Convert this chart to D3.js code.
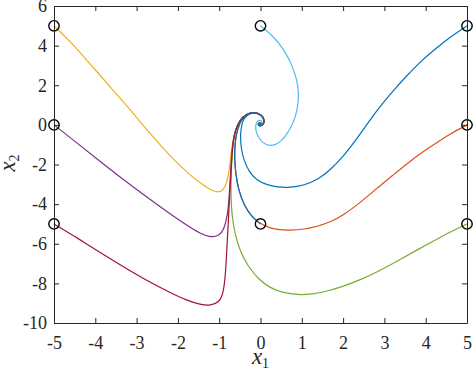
<!DOCTYPE html>
<html>
<head>
<meta charset="utf-8">
<script src="https://cdn.jsdelivr.net/npm/d3@7"></script>
<style>
  body { margin: 0; background: #fff; }
</style>
</head>
<body>
<svg id="chart" width="474" height="373"></svg>
<script>
// trajectories, [x1, x2]
const traj1 = [[5,5],[4.6,4.45],[4.27,3.9],[3.9,3.25],[3.55,2.5],[3.2,1.7],[2.9,0.95],[2.6,0.1],[2.3,-0.8],[2,-1.6],[1.7,-2.25],[1.4,-2.75],[1.05,-3.05],[0.72,-3.17],[0.4,-3.15],[0.15,-3.02],[-0.1,-2.8],[-0.28,-2.35],[-0.4,-1.8],[-0.47,-1.2],[-0.49,-0.55],[-0.46,0],[-0.4,0.35],[-0.28,0.56],[-0.12,0.62],[0.02,0.52],[0.09,0.28],[0.08,0.05],[0,-0.06],[-0.06,0.02],[-0.03,0.1],[0.02,0.06],[0,0]]
const traj2 = [[5,0],[4.6,-0.45],[4.27,-0.9],[3.9,-1.4],[3.55,-1.95],[3.2,-2.55],[2.82,-3.2],[2.4,-3.95],[2.01,-4.55],[1.7,-4.9],[1.37,-5.13],[1.05,-5.27],[0.72,-5.32],[0.45,-5.3],[0.22,-5.2],[0,-5],[-0.22,-4.62],[-0.4,-4.05],[-0.53,-3.3],[-0.6,-2.5],[-0.63,-1.7],[-0.62,-0.9],[-0.56,-0.2],[-0.46,0.28],[-0.32,0.56],[-0.14,0.64],[0.02,0.5],[0.09,0.26],[0.07,0.02],[-0.01,-0.07],[-0.06,0.02],[-0.03,0.1],[0.02,0.06],[0,0]]
const traj3 = [[-5,5],[-4.6,4.2],[-4.2,3.25],[-3.88,2.5],[-3.55,1.7],[-3.23,0.95],[-2.95,0.25],[-2.67,-0.45],[-2.35,-1.2],[-2.05,-1.85],[-1.75,-2.45],[-1.45,-2.95],[-1.2,-3.3],[-1.02,-3.42],[-0.9,-3.3],[-0.81,-2.9],[-0.76,-2.3],[-0.72,-1.6],[-0.68,-0.9],[-0.61,-0.25],[-0.5,0.25],[-0.34,0.56],[-0.15,0.65],[0.02,0.52],[0.1,0.27],[0.08,0.02],[-0.01,-0.08],[-0.07,0.02],[-0.03,0.11],[0.02,0.06],[0,0]]
const traj4 = [[-5,0],[-4.45,-0.9],[-3.88,-1.85],[-3.31,-2.78],[-2.75,-3.65],[-2.25,-4.4],[-1.8,-5.05],[-1.45,-5.5],[-1.2,-5.68],[-1.0,-5.6],[-0.88,-5.25],[-0.8,-4.6],[-0.76,-3.7],[-0.73,-2.6],[-0.7,-1.6],[-0.67,-0.85],[-0.61,-0.25],[-0.5,0.25],[-0.34,0.56],[-0.15,0.65],[0.02,0.52],[0.1,0.27],[0.08,0.02],[-0.01,-0.08],[-0.07,0.02],[-0.03,0.11],[0.02,0.06],[0,0]]
const traj5 = [[5,-5],[4.6,-5.4],[4.2,-5.85],[3.8,-6.3],[3.38,-6.8],[2.9,-7.35],[2.42,-7.82],[2,-8.15],[1.61,-8.4],[1.25,-8.55],[0.9,-8.58],[0.55,-8.48],[0.25,-8.25],[-0.05,-7.8],[-0.3,-7.15],[-0.5,-6.35],[-0.62,-5.5],[-0.69,-4.6],[-0.72,-3.6],[-0.71,-2.5],[-0.69,-1.6],[-0.66,-0.85],[-0.6,-0.25],[-0.5,0.25],[-0.34,0.56],[-0.15,0.65],[0.02,0.52],[0.1,0.27],[0.08,0.02],[-0.01,-0.08],[-0.07,0.02],[-0.03,0.11],[0.02,0.06],[0,0]]
const traj6 = [[0,5],[0.3,4.5],[0.55,3.85],[0.75,3.1],[0.88,2.3],[0.93,1.6],[0.9,0.8],[0.8,0.1],[0.62,-0.55],[0.42,-0.98],[0.22,-1.08],[0.04,-0.9],[-0.08,-0.55],[-0.13,-0.15],[-0.1,0.16],[-0.02,0.27],[0.05,0.15],[0.03,0.03],[0,0]]
const traj7 = [[-5,-5],[-4.4,-5.75],[-3.88,-6.45],[-3.25,-7.25],[-2.67,-7.95],[-2.2,-8.45],[-1.8,-8.85],[-1.45,-9.08],[-1.2,-9.12],[-1.0,-8.95],[-0.9,-8.5],[-0.85,-7.6],[-0.82,-6.5],[-0.79,-5.3],[-0.76,-4.1],[-0.73,-2.9],[-0.7,-1.8],[-0.67,-0.95],[-0.61,-0.25],[-0.5,0.25],[-0.34,0.56],[-0.15,0.65],[0.02,0.52],[0.1,0.27],[0.08,0.02],[-0.01,-0.08],[-0.07,0.02],[-0.03,0.11],[0.02,0.06],[0,0]]
const traj8 = [[0,-5],[-0.22,-4.62],[-0.4,-4.05],[-0.53,-3.3],[-0.6,-2.5],[-0.63,-1.7],[-0.62,-0.9],[-0.56,-0.2],[-0.46,0.28],[-0.32,0.56],[-0.14,0.64],[0.02,0.5],[0.09,0.26],[0.07,0.02],[-0.01,-0.07],[-0.06,0.02],[-0.03,0.1],[0.02,0.06],[0,0]]

const trajectories = [traj1, traj2, traj3, traj4, traj5, traj6, traj7, traj8]
const colors = ["#0072BD","#D95319","#EDB120","#7E2F8E","#77AC30","#4DBEEE","#A2142F","#0072BD"]

const xTicks = [-5,-4,-3,-2,-1,0,1,2,3,4,5]
const yTicks = [-10,-8,-6,-4,-2,0,2,4,6]

let svg = d3.select("#chart"),
    margin = {top: 6, right: 7, bottom: 50, left: 54},
    width = +svg.attr("width") - margin.left - margin.right,
    height = +svg.attr("height") - margin.top - margin.bottom,
    g = svg.append("g").attr("transform", "translate(" + margin.left + "," + margin.top + ")")

let x = d3.scaleLinear().domain([-5,5]).range([0, width]),
    y = d3.scaleLinear().domain([-10,6]).range([height, 0])

let line = d3.line()
    .curve(d3.curveBasis)
    .x(d => x(d[0]))
    .y(d => y(d[1]))

g.selectAll(".traj")
    .data(trajectories)
    .enter().append("path")
    .attr("class", "traj")
    .attr("d", d => line(d))
    .style("fill", "none")
    .style("stroke", (d,i) => colors[i])
    .style("stroke-width", 1.2)

g.selectAll(".start")
    .data(trajectories)
    .enter().append("circle")
    .attr("class", "start")
    .attr("cx", d => x(d[0][0]))
    .attr("cy", d => y(d[0][1]))
    .attr("r", 5.2)
    .style("fill", "none")
    .style("stroke", "#000")
    .style("stroke-width", 1.4)

// axes, ticks inward on all four sides
let tickLen = 5
let fmt = d => d < 0 ? "-" + Math.abs(d) : "" + d
let xAxis = g.append("g")
    .attr("transform", "translate(0," + height + ")")
    .call(d3.axisBottom(x).tickValues(xTicks).tickSizeInner(-tickLen).tickSizeOuter(0).tickPadding(13).tickFormat(fmt))
g.append("g")
    .call(d3.axisTop(x).tickValues(xTicks).tickSizeInner(-tickLen).tickSizeOuter(0).tickFormat(""))
let yAxis = g.append("g")
    .call(d3.axisLeft(y).tickValues(yTicks).tickSizeInner(-tickLen).tickSizeOuter(0).tickPadding(7).tickFormat(fmt))
g.append("g")
    .attr("transform", "translate(" + width + ",0)")
    .call(d3.axisRight(y).tickValues(yTicks).tickSizeInner(-tickLen).tickSizeOuter(0).tickFormat(""))

g.selectAll(".domain, .tick line").style("stroke", "#262626").style("stroke-width", 1)
xAxis.attr("font-family", "Times New Roman").attr("font-size", 18)
yAxis.attr("font-family", "Times New Roman").attr("font-size", 18)
g.selectAll(".tick text").attr("fill", "#262626")

let xl = svg.append("text")
    .attr("x", margin.left + width / 2)
    .attr("y", 364)
    .attr("text-anchor", "middle")
    .attr("font-family", "Times New Roman")
    .attr("font-size", 23)
    .attr("fill", "#262626")
xl.append("tspan").attr("font-style", "italic").text("x")
xl.append("tspan").attr("dy", 4).attr("font-size", 14).text("1")

let yl = svg.append("text")
    .attr("transform", "translate(15,163) rotate(-90)")
    .attr("text-anchor", "middle")
    .attr("font-family", "Times New Roman")
    .attr("font-size", 23)
    .attr("fill", "#262626")
yl.append("tspan").attr("font-style", "italic").text("x")
yl.append("tspan").attr("dy", 4).attr("font-size", 14).text("2")
</script>
</body>
</html>
